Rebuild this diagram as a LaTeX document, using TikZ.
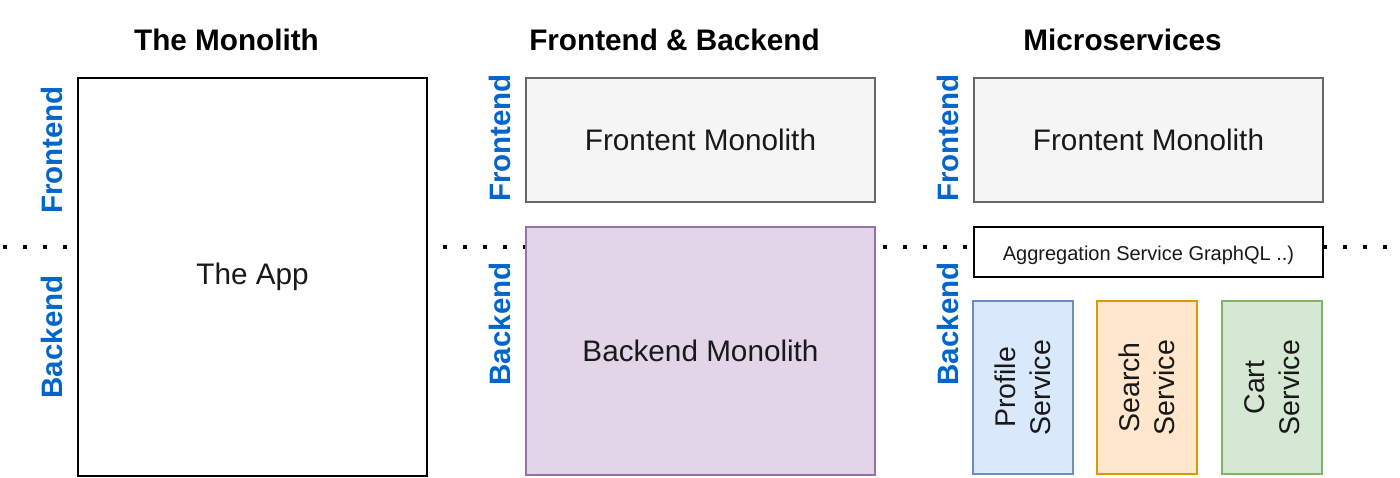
\documentclass[tikz,border=0pt]{standalone}
\usepackage{fontspec}
\setmainfont{Liberation Sans}
\definecolor{lbl}{HTML}{0066CC}
\definecolor{grayfill}{HTML}{F5F5F5}
\definecolor{graydraw}{HTML}{666666}
\definecolor{purfill}{HTML}{E1D5E7}
\definecolor{purdraw}{HTML}{9673A6}
\definecolor{bluefill}{HTML}{DAE8FC}
\definecolor{bluedraw}{HTML}{6C8EBF}
\definecolor{orfill}{HTML}{FFE6CC}
\definecolor{ordraw}{HTML}{D79B00}
\definecolor{grfill}{HTML}{D5E8D4}
\definecolor{grdraw}{HTML}{82B366}
\begin{document}
\begin{tikzpicture}[x=1pt,y=-1pt,
  box/.style={draw, line width=2pt, inner sep=0pt, anchor=north west,
    font=\fontsize{29.7}{36}\selectfont, text=black!90},
  title/.style={font=\fontsize{29.7}{36}\selectfont\bfseries, inner sep=0pt},
  side/.style={font=\fontsize{29.5}{36}\selectfont\bfseries, text=lbl, rotate=90, inner sep=0pt},
  svc/.style={draw, line width=2pt, inner sep=0pt, rotate=90, align=center,
    minimum width=173pt, minimum height=100pt,
    font=\fontsize{28.5}{35}\selectfont, text=black!90},
  dots/.style={line width=4pt, dash pattern=on 4pt off 16pt, dash phase=17.3pt}]
\useasboundingbox (0,0) rectangle (1400,477);
\fill[white] (0,0) rectangle (1400,477);
% dotted separator
\coordinate (dl) at (0,247);
\coordinate (dr) at (1400,247);
\draw[dots] (dl) -- (dr);
% titles
\node[title] (t1) at (226.5,40) {The Monolith};
\node[title] (t2) at (674.5,40) {Frontend \& Backend};
\node[title] (t3) at (1122.5,40) {Microservices};
% side labels
\node[side] (f1) at (52,150) {Frontend};
\node[side] (b1) at (52,337) {Backend};
\node[side] (f2) at (500,138) {Frontend};
\node[side] (b2) at (500,324) {Backend};
\node[side] (f3) at (948,138) {Frontend};
\node[side] (b3) at (948,324) {Backend};
% monolith
\node[box, fill=white, minimum width=349pt, minimum height=398pt] (app) at (77,77) {The App};
% frontend & backend
\node[box, draw=graydraw, fill=grayfill, minimum width=349pt, minimum height=124pt] (fm2) at (525,77) {Frontent Monolith};
\node[box, draw=purdraw, fill=purfill, minimum width=349pt, minimum height=248pt] (bm) at (525,226) {Backend Monolith};
% microservices
\node[box, draw=graydraw, fill=grayfill, minimum width=349pt, minimum height=124pt] (fm3) at (973,77) {Frontent Monolith};
\node[box, fill=white, minimum width=349pt, minimum height=50pt] (agg) at (973,226) {};
\node[font=\fontsize{20}{24}\selectfont, text=black!90, inner sep=0pt] (aggt) at ([yshift=-3pt]agg.center) {Aggregation Service GraphQL ..)};
\node[svc, draw=bluedraw, fill=bluefill] (prof) at (1023,387.5) {Profile\\Service};
\node[svc, draw=ordraw, fill=orfill] (srch) at (1147,387.5) {Search\\Service};
\node[svc, draw=grdraw, fill=grfill] (cart) at (1272,387.5) {Cart\\Service};
\end{tikzpicture}
\end{document}
